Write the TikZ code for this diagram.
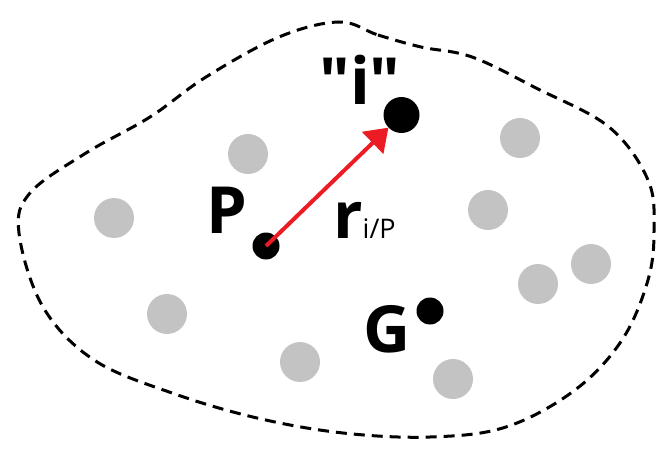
\documentclass[tikz,border=0pt]{standalone}
\usepackage{fontspec}
\setmainfont{Open Sans}[Ligatures=TeXOff]
\usetikzlibrary{arrows.meta}
\definecolor{dotgray}{RGB}{195,195,195}
\definecolor{arrowred}{RGB}{237,28,36}
\tikzset{
  graydot/.style={circle,fill=dotgray,inner sep=0pt,minimum size=40pt},
  blackdot/.style={circle,fill=black,inner sep=0pt,minimum size=#1},
  biglabel/.style={inner sep=0pt,anchor=base,font=\bfseries\fontsize{65}{65}\selectfont},
  boundary/.style={line width=3pt,dash pattern=on 11pt off 7pt},
  vecarrow/.style={draw=arrowred,line width=4pt,-{Triangle[length=22pt,width=30pt,fill=arrowred]}}
}
\begin{document}
\begin{tikzpicture}[x=1pt,y=-1pt]
\useasboundingbox (0,0) rectangle (670,460);
% boundary
\draw[boundary] plot[smooth cycle,tension=0.6] coordinates {
 (339,22) (378,35) (421,47) (472,57) (536,88) (609,127) (648,180) (654,230)
 (648,280) (622,340) (575,390) (506,427) (430,437) (343,433) (257,418)
 (172,393) (94,360) (43,307) (19,233) (30,193) (86,153) (150,117) (206,77) (279,37)};
% gray particles
\node[graydot] (g1) at (248,154) {};
\node[graydot] (g2) at (114,218) {};
\node[graydot] (g3) at (167,314) {};
\node[graydot] (g4) at (300,362) {};
\node[graydot] (g5) at (453,379) {};
\node[graydot] (g6) at (538,284) {};
\node[graydot] (g7) at (591,264) {};
\node[graydot] (g8) at (488,210) {};
\node[graydot] (g9) at (520,138) {};
% black points
\node[blackdot=36pt] (i) at (401.5,115) {};
\node[blackdot=27pt] (P) at (266,246) {};
\node[blackdot=27pt] (G) at (430,311) {};
% arrow
\draw[vecarrow] (P.center) -- (i);
% labels
\node[biglabel] (li) at (360,104) {"i"};
\node[biglabel] (lP) at (227,233) {P};
\node[biglabel] (lG) at (387.5,352) {G};
\node[biglabel,anchor=base west] (lr) at (333,238) {r{\mdseries\fontsize{27}{27}\selectfont i/P}};
\end{tikzpicture}
\end{document}
